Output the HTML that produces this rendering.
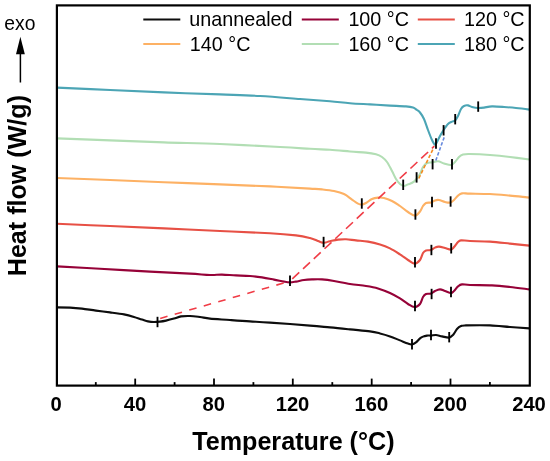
<!DOCTYPE html>
<html><head><meta charset="utf-8"><title>DSC heat flow</title>
<style>
html,body{margin:0;padding:0;background:#fff;}
body{width:550px;height:461px;overflow:hidden;}
svg{display:block;}
text{font-family:"Liberation Sans",Arial,Helvetica,sans-serif;fill:#000;}
.b{font-weight:bold;}
.tl{font-size:20.2px;font-weight:bold;text-anchor:middle;}
.lg{font-size:19.75px;}
</style></head><body>
<svg width="550" height="461" viewBox="0 0 550 461">
<rect width="550" height="461" fill="#fff"/>
<g fill="none" stroke-width="2.1" stroke-linejoin="round" stroke-linecap="butt">
<path d="M57.0 307.4C59.2 307.4 65.8 307.4 70.0 307.6C74.2 307.8 77.7 308.1 82.0 308.6C86.3 309.1 91.3 310.0 96.0 310.6C100.7 311.2 105.3 311.8 110.0 312.4C114.7 313.0 120.0 313.6 124.0 314.4C128.0 315.2 131.0 316.1 134.0 317.0C137.0 317.9 139.7 318.9 142.0 319.6C144.3 320.3 146.0 321.0 148.0 321.4C150.0 321.8 152.0 322.0 154.0 322.0C156.0 322.0 158.0 321.8 160.0 321.6C162.0 321.4 163.7 321.1 166.0 320.6C168.3 320.1 171.5 319.3 174.0 318.6C176.5 317.9 178.3 316.8 181.0 316.4C183.7 316.0 186.8 315.9 190.0 316.0C193.2 316.1 196.7 316.6 200.0 317.0C203.3 317.4 205.0 318.1 210.0 318.6C215.0 319.1 223.3 319.5 230.0 320.0C236.7 320.5 243.3 321.0 250.0 321.4C256.7 321.8 260.0 321.9 270.0 322.6C280.0 323.3 300.0 324.8 310.0 325.6C320.0 326.4 323.3 326.8 330.0 327.4C336.7 328.0 343.3 328.7 350.0 329.4C356.7 330.1 365.0 330.7 370.0 331.4C375.0 332.1 376.7 332.6 380.0 333.4C383.3 334.2 386.7 335.2 390.0 336.4C393.3 337.6 397.0 339.2 400.0 340.4C403.0 341.6 406.0 342.9 408.0 343.6C410.0 344.3 410.7 344.6 412.0 344.4C413.3 344.2 414.7 343.4 416.0 342.4C417.3 341.4 418.8 339.4 420.0 338.4C421.2 337.4 421.8 337.1 423.0 336.6C424.2 336.1 425.7 335.8 427.0 335.6C428.3 335.4 429.5 335.7 431.0 335.6C432.5 335.5 434.2 334.9 436.0 335.0C437.8 335.1 439.8 336.0 442.0 336.4C444.2 336.8 447.2 337.8 449.0 337.6C450.8 337.4 451.7 336.4 453.0 335.0C454.3 333.6 455.7 330.5 457.0 329.0C458.3 327.5 459.5 326.6 461.0 326.0C462.5 325.4 461.2 325.5 466.0 325.4C470.8 325.3 482.7 325.1 490.0 325.4C497.3 325.7 503.4 326.5 510.0 327.0C516.6 327.5 526.2 328.2 529.5 328.4" stroke="#0d0d0d"/>
<path d="M57.0 266.4C64.2 266.8 84.5 267.9 100.0 268.8C115.5 269.7 135.0 270.8 150.0 271.6C165.0 272.4 180.0 273.0 190.0 273.6C200.0 274.2 204.7 274.8 210.0 275.0C215.3 275.2 217.7 274.5 222.0 274.6C226.3 274.7 231.3 275.2 236.0 275.4C240.7 275.6 245.7 275.7 250.0 276.0C254.3 276.3 258.0 276.8 262.0 277.4C266.0 278.0 270.3 278.9 274.0 279.6C277.7 280.3 281.3 281.1 284.0 281.6C286.7 282.1 288.0 282.4 290.0 282.4C292.0 282.4 293.7 282.0 296.0 281.6C298.3 281.2 301.3 280.4 304.0 280.0C306.7 279.6 309.0 279.5 312.0 279.4C315.0 279.3 318.3 279.1 322.0 279.4C325.7 279.7 329.3 280.2 334.0 281.0C338.7 281.8 344.7 283.2 350.0 284.0C355.3 284.8 361.3 285.3 366.0 286.0C370.7 286.7 374.0 287.2 378.0 288.4C382.0 289.6 386.3 291.3 390.0 293.0C393.7 294.7 397.0 296.6 400.0 298.4C403.0 300.2 405.6 302.6 408.0 304.0C410.4 305.4 412.4 307.0 414.4 307.0C416.4 307.0 418.6 305.7 420.0 304.0C421.4 302.3 422.0 298.7 423.0 297.0C424.0 295.3 424.7 294.6 426.0 294.0C427.3 293.4 429.5 294.1 431.0 293.6C432.5 293.1 433.5 291.7 435.0 291.0C436.5 290.3 438.3 289.4 440.0 289.4C441.7 289.4 443.2 290.4 445.0 291.0C446.8 291.6 449.5 293.0 451.0 293.0C452.5 293.0 452.8 292.1 454.0 291.0C455.2 289.9 456.7 287.5 458.0 286.4C459.3 285.3 460.0 284.6 462.0 284.4C464.0 284.2 465.0 284.8 470.0 285.0C475.0 285.2 485.3 285.1 492.0 285.4C498.7 285.7 503.8 286.3 510.0 287.0C516.2 287.7 526.2 289.0 529.5 289.4" stroke="#960238"/>
<path d="M57.0 223.8C65.8 224.2 92.2 225.2 110.0 226.0C127.8 226.8 145.7 227.6 164.0 228.4C182.3 229.2 202.3 230.2 220.0 231.0C237.7 231.8 257.3 232.5 270.0 233.2C282.7 233.9 289.3 234.6 296.0 235.4C302.7 236.2 306.3 237.1 310.0 238.0C313.7 238.9 316.2 240.3 318.0 241.0C319.8 241.7 320.1 241.9 321.0 242.2C321.9 242.5 322.7 242.7 323.6 242.7C324.5 242.7 325.4 242.4 326.5 242.2C327.6 241.9 328.1 241.6 330.0 241.2C331.9 240.8 335.3 239.9 338.0 239.6C340.7 239.3 343.0 239.1 346.0 239.2C349.0 239.3 352.3 240.0 356.0 240.4C359.7 240.8 364.0 240.9 368.0 241.6C372.0 242.3 376.3 243.3 380.0 244.4C383.7 245.5 386.7 246.7 390.0 248.4C393.3 250.1 397.0 252.5 400.0 254.4C403.0 256.3 405.6 258.5 408.0 260.0C410.4 261.5 412.4 263.6 414.4 263.6C416.4 263.6 418.6 261.8 420.0 260.0C421.4 258.2 422.0 254.6 423.0 253.0C424.0 251.4 424.7 250.9 426.0 250.4C427.3 249.9 429.5 250.5 431.0 250.0C432.5 249.5 433.7 248.2 435.0 247.6C436.3 247.0 437.3 246.5 439.0 246.6C440.7 246.7 443.0 247.5 445.0 248.0C447.0 248.5 449.5 249.8 451.0 249.6C452.5 249.4 452.8 248.3 454.0 247.0C455.2 245.7 456.8 243.1 458.0 242.0C459.2 240.9 459.0 240.6 461.0 240.4C463.0 240.2 465.2 240.8 470.0 241.0C474.8 241.2 483.3 241.2 490.0 241.6C496.7 242.0 503.4 242.9 510.0 243.6C516.6 244.3 526.2 245.3 529.5 245.6" stroke="#e75045"/>
<path d="M57.0 178.0C65.8 178.3 92.2 179.3 110.0 180.0C127.8 180.7 145.7 181.5 164.0 182.2C182.3 182.9 202.3 183.7 220.0 184.4C237.7 185.1 255.0 185.7 270.0 186.4C285.0 187.1 301.3 188.1 310.0 188.6C318.7 189.1 318.0 189.0 322.0 189.4C326.0 189.8 330.3 190.2 334.0 191.0C337.7 191.8 341.0 192.6 344.0 194.0C347.0 195.4 349.7 198.0 352.0 199.6C354.3 201.2 356.4 202.8 358.0 203.6C359.6 204.4 360.3 204.7 361.6 204.6C362.9 204.5 364.3 203.9 366.0 203.0C367.7 202.1 370.0 199.9 372.0 199.0C374.0 198.1 376.0 197.8 378.0 197.6C380.0 197.4 381.7 197.4 384.0 198.0C386.3 198.6 389.3 199.7 392.0 201.0C394.7 202.3 397.3 204.2 400.0 206.0C402.7 207.8 405.5 210.4 408.0 212.0C410.5 213.6 413.0 215.7 415.0 215.6C417.0 215.5 418.7 213.1 420.0 211.5C421.3 209.9 422.0 207.4 423.0 206.0C424.0 204.6 424.7 203.6 426.0 203.0C427.3 202.4 429.5 202.8 431.0 202.4C432.5 202.0 433.7 200.8 435.0 200.4C436.3 200.0 437.3 199.7 439.0 200.0C440.7 200.3 443.2 201.6 445.0 202.0C446.8 202.4 448.5 202.9 450.0 202.6C451.5 202.3 452.7 201.2 454.0 200.0C455.3 198.8 456.7 196.7 458.0 195.6C459.3 194.5 460.0 193.7 462.0 193.4C464.0 193.1 465.3 193.5 470.0 193.6C474.7 193.7 483.3 193.7 490.0 194.0C496.7 194.3 503.4 195.0 510.0 195.6C516.6 196.2 526.2 197.3 529.5 197.6" stroke="#fdb164"/>
<path d="M57.0 138.4C65.8 138.7 92.2 139.7 110.0 140.4C127.8 141.1 145.7 141.8 164.0 142.4C182.3 143.0 200.7 143.2 220.0 144.0C239.3 144.8 265.0 146.2 280.0 147.0C295.0 147.8 301.7 148.3 310.0 148.8C318.3 149.3 323.3 149.4 330.0 149.8C336.7 150.2 344.0 151.0 350.0 151.5C356.0 152.0 361.7 152.2 366.0 152.6C370.3 153.0 373.3 153.5 376.0 154.2C378.7 154.9 380.2 155.7 382.0 157.0C383.8 158.3 385.3 159.7 387.0 162.0C388.7 164.3 390.5 168.2 392.0 171.0C393.5 173.8 394.7 176.8 396.0 179.0C397.3 181.2 398.7 182.8 400.0 184.0C401.3 185.2 402.7 185.9 404.0 186.0C405.3 186.1 406.3 185.1 408.0 184.4C409.7 183.7 412.0 183.3 414.0 181.6C416.0 179.9 418.5 176.4 420.0 174.0C421.5 171.6 421.8 168.8 423.0 167.0C424.2 165.2 425.5 163.8 427.0 163.0C428.5 162.2 430.2 162.7 432.0 162.4C433.8 162.1 436.0 161.0 438.0 161.2C440.0 161.4 441.8 162.8 444.0 163.4C446.2 164.0 449.2 165.2 451.0 165.0C452.8 164.8 453.7 163.3 455.0 162.0C456.3 160.7 457.7 158.3 459.0 157.0C460.3 155.7 461.2 154.9 463.0 154.4C464.8 153.9 465.5 153.9 470.0 154.0C474.5 154.1 483.3 154.5 490.0 155.0C496.7 155.5 503.4 156.2 510.0 157.0C516.6 157.8 526.2 159.1 529.5 159.5" stroke="#b2deb4"/>
<path d="M57.0 87.6C65.8 88.0 92.2 89.2 110.0 90.0C127.8 90.8 145.7 91.7 164.0 92.4C182.3 93.1 204.0 93.8 220.0 94.4C236.0 95.0 246.7 95.2 260.0 96.0C273.3 96.8 288.3 98.1 300.0 99.0C311.7 99.9 321.7 100.6 330.0 101.3C338.3 102.0 343.3 102.7 350.0 103.2C356.7 103.7 363.3 104.0 370.0 104.4C376.7 104.8 384.0 105.3 390.0 105.6C396.0 105.9 402.2 106.1 406.0 106.4C409.8 106.7 411.2 107.0 413.0 107.6C414.8 108.2 415.8 109.2 417.0 110.0C418.2 110.8 418.8 111.0 420.0 112.5C421.2 114.0 422.7 116.1 424.0 119.0C425.3 121.9 426.7 126.5 428.0 130.0C429.3 133.5 430.8 137.5 432.0 140.0C433.2 142.5 434.2 144.5 435.0 144.8C435.8 145.1 436.2 143.5 437.0 142.0C437.8 140.5 438.9 138.0 440.0 136.0C441.1 134.0 442.3 132.0 443.6 130.0C444.9 128.0 446.6 125.4 448.0 124.0C449.4 122.6 450.8 122.2 452.0 121.6C453.2 121.0 454.0 121.5 455.0 120.6C456.0 119.7 457.0 117.9 458.0 116.0C459.0 114.1 460.0 110.7 461.0 109.0C462.0 107.3 462.8 106.6 464.0 106.0C465.2 105.4 466.7 105.2 468.0 105.4C469.3 105.6 470.3 106.6 472.0 107.0C473.7 107.4 476.0 107.9 478.0 108.0C480.0 108.1 481.7 107.9 484.0 107.6C486.3 107.3 488.7 106.5 492.0 106.4C495.3 106.3 500.0 106.7 504.0 107.0C508.0 107.3 511.8 107.6 516.0 108.0C520.2 108.4 527.2 109.3 529.5 109.6" stroke="#4ca5b5"/>
</g>
<g fill="none" stroke-width="1.6">
<path d="M160.2 318.4L290 281.2" stroke="#f03c46" stroke-dasharray="7.6 7.5"/>
<path d="M292.3 278.9L434.3 146.2" stroke="#f03c46" stroke-dasharray="9.5 5.2"/>
<path d="M418.8 178.5L433.3 148.5" stroke="#f58a1f" stroke-dasharray="3.6 2.1"/>
<path d="M435.8 160.5L444.3 137" stroke="#6688dd" stroke-dasharray="3.4 1.9"/>
</g>
<g stroke="#000" stroke-width="1.85">
<path d="M157.5 316.8V327.2"/>
<path d="M412.0 339.1V349.5"/>
<path d="M431.0 329.8V340.2"/>
<path d="M449.2 332.0V342.4"/>
<path d="M290.0 275.6V286.0"/>
<path d="M415.0 300.8V311.2"/>
<path d="M431.6 288.8V299.2"/>
<path d="M451.0 286.8V297.2"/>
<path d="M323.6 236.8V247.2"/>
<path d="M415.0 257.0V267.4"/>
<path d="M431.4 244.8V255.2"/>
<path d="M451.2 243.1V253.5"/>
<path d="M361.8 198.3V208.7"/>
<path d="M415.4 209.3V219.7"/>
<path d="M432.0 196.8V207.2"/>
<path d="M450.6 196.3V206.7"/>
<path d="M403.2 179.6V190.0"/>
<path d="M416.6 172.2V182.6"/>
<path d="M432.6 159.0V169.4"/>
<path d="M452.0 159.0V169.4"/>
<path d="M436.0 138.3V148.7"/>
<path d="M443.6 125.1V135.5"/>
<path d="M455.2 114.0V124.4"/>
<path d="M478.2 101.4V111.8"/>
</g>
<g stroke="#000" stroke-width="1.8">
<path d="M95.8 385.6V382.1"/>
<path d="M135.2 385.6V378.6"/>
<path d="M174.6 385.6V382.1"/>
<path d="M214.0 385.6V378.6"/>
<path d="M253.4 385.6V382.1"/>
<path d="M292.8 385.6V378.6"/>
<path d="M332.3 385.6V382.1"/>
<path d="M371.7 385.6V378.6"/>
<path d="M411.1 385.6V382.1"/>
<path d="M450.5 385.6V378.6"/>
<path d="M489.9 385.6V382.1"/>
</g>
<rect x="56.9" y="5.4" width="472.9" height="380.2" fill="none" stroke="#000" stroke-width="2.2"/>
<text class="tl" x="56.1" y="410.9">0</text>
<text class="tl" x="134.9" y="410.9">40</text>
<text class="tl" x="213.7" y="410.9">80</text>
<text class="tl" x="292.5" y="410.9">120</text>
<text class="tl" x="371.4" y="410.9">160</text>
<text class="tl" x="450.2" y="410.9">200</text>
<text class="tl" x="529.0" y="410.9">240</text>
<text class="b" x="293.4" y="450.3" font-size="25.15" text-anchor="middle">Temperature (°C)</text>
<text class="b" transform="translate(26 185.6) rotate(-90)" font-size="25.1" text-anchor="middle">Heat flow (W/g)</text>
<text x="4.3" y="30" font-size="19.3">exo</text>
<path d="M20.4 82.5V50" stroke="#000" stroke-width="1.5" fill="none"/><path d="M20.4 36.8L24.8 54.3H16L20.4 36.8Z" fill="#000"/>
<g stroke-width="2" fill="none">
<path d="M143.3 19.6H180.3" stroke="#0d0d0d"/>
<path d="M301.8 19.6H338.8" stroke="#960238"/>
<path d="M417.8 19.6H454.8" stroke="#e75045"/>
<path d="M143.3 44.1H180.3" stroke="#fdb164"/>
<path d="M301.8 44.1H338.8" stroke="#b2deb4"/>
<path d="M417.8 44.1H454.8" stroke="#4ca5b5"/>
</g>
<text class="lg" x="189.3" y="26.1">unannealed</text>
<text class="lg" x="348.4" y="26.1">100 °C</text>
<text class="lg" x="464.0" y="26.1">120 °C</text>
<text class="lg" x="189.8" y="50.6">140 °C</text>
<text class="lg" x="348.4" y="50.6">160 °C</text>
<text class="lg" x="464.0" y="50.6">180 °C</text>
</svg></body></html>
